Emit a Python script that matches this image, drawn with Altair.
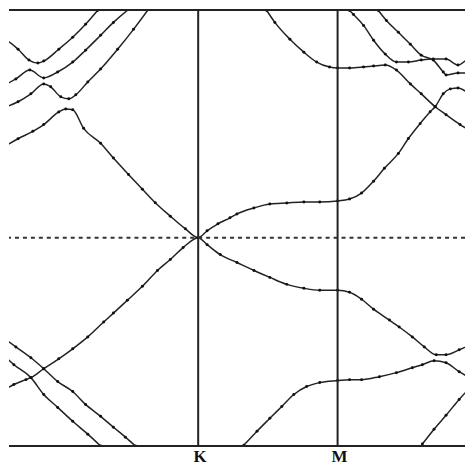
import altair as alt
import pandas as pd

# high-symmetry points
sym_k = [1.0, 1.5]
sym_labels = ["K", "M"]
fermi = [0.0]
e_top = [3.06]
e_bottom = [-2.8]

# bands: k (K = 1.0, M = 1.5), E (eV, Fermi = 0)
A_k = [0.293, 0.354, 0.407, 0.446, 0.5, 0.525, 0.55, 0.589, 0.65, 0.696, 0.75, 0.8, 0.846, 0.9, 0.954, 1.0,
       1.032, 1.071, 1.114, 1.139, 1.2, 1.257, 1.318, 1.379, 1.436, 1.5, 1.543, 1.586, 1.629, 1.668, 1.718,
       1.754, 1.796, 1.832, 1.85, 1.879, 1.904, 1.932, 1.968, 1.986]
A_e = [1.20, 1.33, 1.43, 1.52, 1.69, 1.73, 1.72, 1.47, 1.27, 1.07, 0.85, 0.65, 0.47, 0.29, 0.12, 0.0,
       0.093, 0.187, 0.267, 0.32, 0.40, 0.453, 0.467, 0.48, 0.48, 0.493, 0.52, 0.60, 0.76, 0.933, 1.133,
       1.333, 1.533, 1.693, 1.76, 1.933, 2.0, 2.013, 1.947, 1.907]

V_k = [0.293, 0.339, 0.382, 0.4, 0.446, 0.5, 0.55, 0.604, 0.661, 0.696, 0.746, 0.8, 0.854, 0.9, 0.946, 1.0,
       1.032, 1.079, 1.139, 1.2, 1.257, 1.318, 1.379, 1.436, 1.5, 1.543, 1.586, 1.629, 1.686, 1.721, 1.768,
       1.811, 1.854, 1.889, 1.936, 1.982]
V_e = [-2.067, -1.973, -1.907, -1.88, -1.76, -1.627, -1.493, -1.333, -1.133, -1.013, -0.84, -0.653, -0.44,
       -0.293, -0.133, 0.0, -0.093, -0.227, -0.333, -0.44, -0.533, -0.627, -0.68, -0.707, -0.707, -0.733,
       -0.827, -0.96, -1.107, -1.2, -1.333, -1.467, -1.573, -1.573, -1.507, -1.427]

B_k = [0.293, 0.354, 0.4, 0.446, 0.471, 0.507, 0.536, 0.561, 0.604, 0.65, 0.711, 0.768, 0.821]
B_e = [1.733, 1.827, 1.933, 2.067, 2.027, 1.893, 1.867, 1.92, 2.093, 2.267, 2.533, 2.8, 3.067]

C_k = [0.293, 0.346, 0.396, 0.446, 0.496, 0.55, 0.596, 0.65, 0.696, 0.75]
C_e = [2.027, 2.133, 2.253, 2.147, 2.227, 2.36, 2.52, 2.72, 2.893, 3.067]

D_k = [0.293, 0.311, 0.354, 0.393, 0.425, 0.446, 0.5, 0.55, 0.596, 0.639]
D_e = [2.667, 2.653, 2.533, 2.387, 2.347, 2.373, 2.533, 2.693, 2.867, 3.053]

E_k = [0.293, 0.346, 0.4, 0.446, 0.496, 0.55, 0.596, 0.65, 0.696, 0.739, 0.775]
E_e = [-1.32, -1.467, -1.613, -1.76, -1.933, -2.067, -2.24, -2.4, -2.547, -2.68, -2.8]

F_k = [0.293, 0.339, 0.4, 0.446, 0.496, 0.55, 0.604, 0.65]
F_e = [-1.547, -1.707, -1.88, -2.107, -2.28, -2.467, -2.64, -2.8]

R1_k = [1.246, 1.275, 1.329, 1.379, 1.425, 1.471, 1.5, 1.543, 1.593, 1.629, 1.671, 1.711, 1.761, 1.8,
        1.85, 1.889, 1.939, 1.968, 1.986]
R1_e = [3.053, 2.893, 2.667, 2.493, 2.36, 2.293, 2.28, 2.28, 2.293, 2.307, 2.32, 2.253, 2.067, 1.933,
        1.76, 1.653, 1.52, 1.453, 1.413]

R2_k = [1.543, 1.557, 1.593, 1.629, 1.671, 1.711, 1.754, 1.8, 1.843, 1.889, 1.932, 1.968, 1.986]
R2_e = [3.053, 3.0, 2.853, 2.653, 2.467, 2.36, 2.36, 2.387, 2.4, 2.4, 2.32, 2.4, 2.413]

R3_k = [1.646, 1.675, 1.718, 1.761, 1.8, 1.843, 1.879, 1.889, 1.932, 1.986]
R3_e = [3.053, 2.92, 2.76, 2.6, 2.453, 2.387, 2.227, 2.187, 2.213, 2.213]

G_k = [1.164, 1.211, 1.257, 1.3, 1.343, 1.389, 1.436, 1.5, 1.543, 1.586, 1.65, 1.711, 1.768, 1.804,
       1.846, 1.889, 1.936, 1.979, 1.986]
G_e = [-2.787, -2.6, -2.427, -2.267, -2.107, -2.0, -1.947, -1.92, -1.907, -1.907, -1.867, -1.813,
       -1.747, -1.707, -1.653, -1.68, -1.8, -1.893, -1.907]

H_k = [1.804, 1.846, 1.889, 1.936, 1.979, 1.986]
H_e = [-2.773, -2.573, -2.387, -2.173, -2.0, -1.973]

bands = {"A": (A_k, A_e), "V": (V_k, V_e), "B": (B_k, B_e), "C": (C_k, C_e), "D": (D_k, D_e),
         "E": (E_k, E_e), "F": (F_k, F_e), "R1": (R1_k, R1_e), "R2": (R2_k, R2_e),
         "R3": (R3_k, R3_e), "G": (G_k, G_e), "H": (H_k, H_e)}

rows = []
for name, (ks, es) in bands.items():
    for k, e in zip(ks, es):
        rows.append({"band": name, "k": k, "E": e})
df = pd.DataFrame(rows)

xscale = alt.Scale(domain=[0.3214, 1.957], nice=False, zero=False)
yscale = alt.Scale(domain=[e_bottom[0], e_top[0]], nice=False, zero=False)

lines = alt.Chart(df).mark_line(interpolate="monotone", clip=True, color="#222", strokeWidth=1.5).encode(
    x=alt.X("k:Q", scale=xscale, axis=None),
    y=alt.Y("E:Q", scale=yscale, axis=None),
    detail="band:N",
)
points = alt.Chart(df).mark_circle(size=9, color="#111", opacity=1, clip=True).encode(
    x=alt.X("k:Q", scale=xscale, axis=None),
    y=alt.Y("E:Q", scale=yscale, axis=None),
)

sym_df = pd.DataFrame({"k": sym_k, "label": sym_labels})
vlines = alt.Chart(sym_df).mark_rule(color="#222", strokeWidth=2).encode(
    x=alt.X("k:Q", scale=xscale, axis=None)
)
sym_text = alt.Chart(sym_df).mark_text(
    font="Liberation Serif", fontWeight="bold", fontSize=17, color="#111",
    baseline="alphabetic", dy=16, dx=2
).encode(
    x=alt.X("k:Q", scale=xscale, axis=None),
    y=alt.value(438),
    text="label:N",
)
fermi_df = pd.DataFrame({"E": fermi})
fermi_line = alt.Chart(fermi_df).mark_rule(color="#333", strokeWidth=2, strokeDash=[4, 4]).encode(
    y=alt.Y("E:Q", scale=yscale, axis=None)
)
frame_df = pd.DataFrame({"E": e_top + e_bottom})
frame_lines = alt.Chart(frame_df).mark_rule(color="#222", strokeWidth=2).encode(
    y=alt.Y("E:Q", scale=yscale, axis=None)
)

chart = alt.layer(lines, points, vlines, fermi_line, frame_lines, sym_text).properties(
    width=458, height=438, padding=0, background="white"
).configure_view(stroke=None)

chart.save("out.html", embed_options={"renderer": "svg", "actions": False})
